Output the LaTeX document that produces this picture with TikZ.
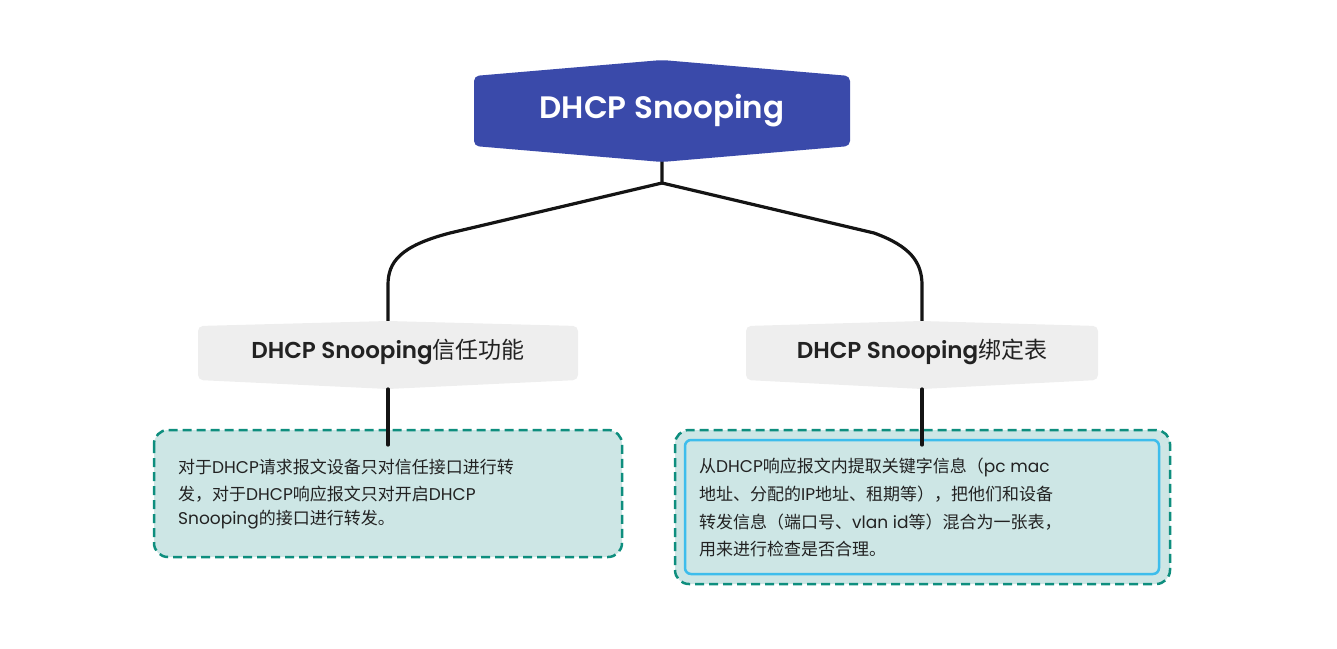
\documentclass[tikz,border=0pt]{standalone}
\usepackage{fontspec}
\setmainfont{Poppins}
\newfontfamily\cjk{Noto Sans CJK SC}
\newfontfamily\popsb{Poppins SemiBold}
\definecolor{topblue}{HTML}{3A4AAA}
\definecolor{grayfill}{HTML}{EEEEEE}
\definecolor{tealline}{HTML}{0E8E7E}
\definecolor{tealfill}{HTML}{CDE6E5}
\definecolor{skyline}{HTML}{3DBDEC}
\definecolor{txt}{HTML}{222222}
\tikzset{conn/.style={line width=3.2pt,draw=black!92,line cap=round},
 body/.style={anchor=west,font=\fontsize{17}{17}\selectfont,text=txt,inner sep=0pt}}
\begin{document}
\begin{tikzpicture}[x=1pt,y=-1pt]
\useasboundingbox (0,0) rectangle (1337,648);
% connectors
\coordinate (j) at (662,183);
\draw[conn] (662,160) -- (j) -- (450,233) .. controls (400,246) and (388,262) .. (388,285) -- (388,330);
\draw[conn] (j) -- (874,233) .. controls (910,246) and (922,262) .. (922,285) -- (922,330);
% top node
\fill[topblue,rounded corners=5pt] (474,76) -- (662,60) -- (850,76) -- (850,146) -- (662,162) -- (474,146) -- cycle;
\node (top) at (662,111) {\color{white}\fontsize{31}{31}\selectfont\popsb DHCP Snooping};
% children
\fill[grayfill,rounded corners=5pt] (198,326) -- (388,321) -- (578,326) -- (578,380) -- (388,389) -- (198,380) -- cycle;
\node (c1) at (388,352) {\fontsize{23}{23}\selectfont\color{txt}{\popsb DHCP Snooping}\cjk 信任功能};
\fill[grayfill,rounded corners=5pt] (746,326) -- (922,321) -- (1098,326) -- (1098,380) -- (922,389) -- (746,380) -- cycle;
\node (c2) at (922,352) {\fontsize{23}{23}\selectfont\color{txt}{\popsb DHCP Snooping}\cjk 绑定表};
% boxes
\draw[tealline,fill=tealfill,line width=2.5pt,dash pattern=on 9pt off 5pt,rounded corners=14pt] (154,430) rectangle (622,557);
\draw[tealline,fill=tealfill,line width=2.5pt,dash pattern=on 9pt off 5pt,rounded corners=14pt] (675,430) rectangle (1170,584);
\draw[skyline,line width=2.5pt,rounded corners=6pt] (685,440) rectangle (1159,574);
\draw[conn] (388,389) -- (388,445);
\draw[conn] (922,389) -- (922,445);
\node[body] (l1) at (178,467) {\cjk 对于\rmfamily DHCP\cjk 请求报文设备只对信任接口进行转};
\node[body] (l2) at (178,494) {\cjk 发，对于\rmfamily DHCP\cjk 响应报文只对开启\rmfamily DHCP};
\node[body] (l3) at (178,520) {\rmfamily Snooping\cjk 的接口进行转发。};
\node[body] (r1) at (699,467) {\cjk 从\rmfamily DHCP\cjk 响应报文内提取关键字信息（\rmfamily pc mac};
\node[body] (r2) at (699,494) {\cjk 地址、分配的\rmfamily IP\cjk 地址、租期等），把他们和设备};
\node[body] (r3) at (699,522) {\cjk 转发信息（端口号、\rmfamily vlan id\cjk 等）混合为一张表，};
\node[body] (r4) at (699,549) {\cjk 用来进行检查是否合理。};
\end{tikzpicture}
\end{document}
